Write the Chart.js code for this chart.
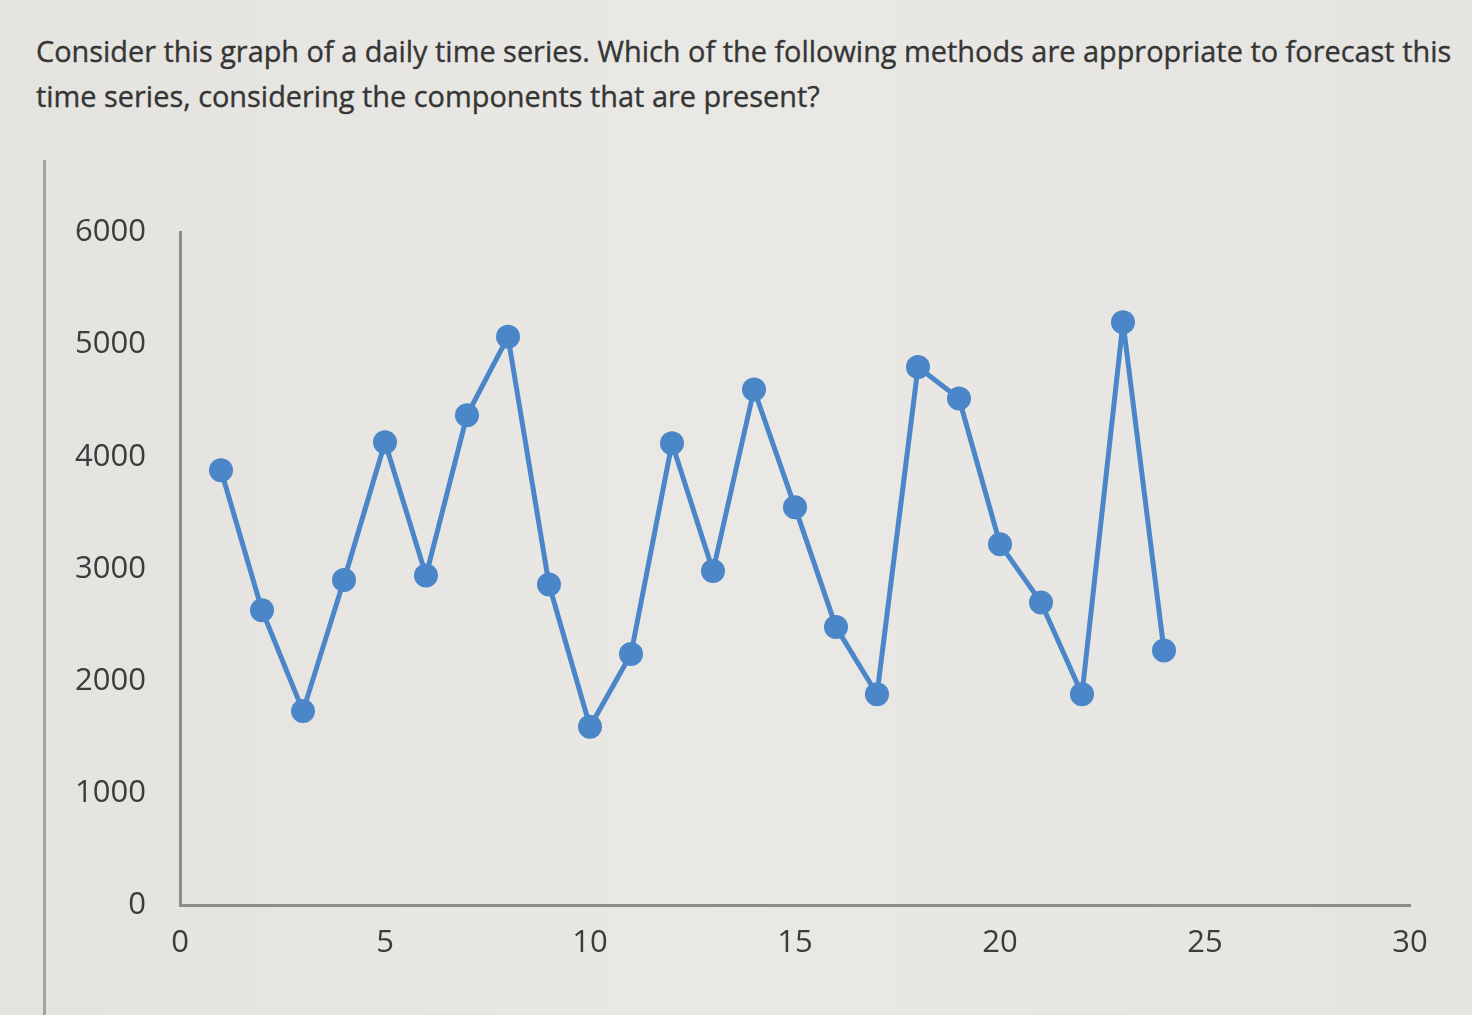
<!DOCTYPE html>
<html>
<head>
<meta charset="utf-8">
<script src="https://cdn.jsdelivr.net/npm/chart.js@4"></script>
<style>
    html, body { margin: 0; padding: 0; }
    body {
        width: 1472px;
        height: 1015px;
        overflow: hidden;
        background: linear-gradient(90deg, #e4e3e0 0%, #e9e8e5 50%, #e5e4e1 100%);
        font-family: "Open Sans", sans-serif;
        position: relative;
    }
    #question {
        position: absolute;
        left: 36px;
        top: 28px;
        width: 1436px;
        font-size: 28.9px;
        line-height: 45px;
        color: #353535;
        -webkit-text-stroke: 0.35px #353535;
        white-space: nowrap;
    }
    #frame {
        position: absolute;
        left: 43px;
        top: 160px;
        width: 3px;
        height: 860px;
        background: #a3a3a3;
    }
    #chartBox {
        position: absolute;
        left: 55px;
        top: 180px;
        width: 1400px;
        height: 800px;
    }
</style>
</head>
<body>
<div id="question">Consider this graph of a daily time series. Which of the following methods are appropriate to forecast this<br>time series, considering the components that are present?</div>
<div id="frame"></div>
<div id="chartBox"><canvas id="seriesChart"></canvas></div>

<script>
// Daily time series
const days = [1, 2, 3, 4, 5, 6, 7, 8, 9, 10, 11, 12, 13, 14, 15, 16, 17, 18, 19, 20, 21, 22, 23, 24];
const sales = [3880, 2630, 1730, 2900, 4130, 2940, 4370, 5070, 2860, 1590, 2240, 4120,
               2980, 4600, 3550, 2480, 1880, 4800, 4520, 3220, 2700, 1880, 5200, 2270];

// Axis ranges / ticks
const xTicks = [0, 5, 10, 15, 20, 25, 30];
const yTicks = [0, 1000, 2000, 3000, 4000, 5000, 6000];

const lineColor = '#4a86c8';
const axisColor = '#8c8c8c';
const labelColor = '#3c3c3c';

document.addEventListener('DOMContentLoaded', () => {
    initializeChart();
});

function initializeChart() {
    const ctx = document.getElementById('seriesChart').getContext('2d');
    const points = days.map((d, i) => ({ x: d, y: sales[i] }));

    new Chart(ctx, {
        type: 'line',
        data: {
            datasets: [{
                label: 'Daily series',
                data: points,
                borderColor: lineColor,
                backgroundColor: lineColor,
                borderWidth: 5,
                borderJoinStyle: 'round',
                pointRadius: 12,
                pointHoverRadius: 12,
                pointBorderWidth: 0,
                tension: 0
            }]
        },
        options: {
            responsive: true,
            maintainAspectRatio: false,
            animation: false,
            layout: { padding: { top: 12, right: 45, left: 0, bottom: 0 } },
            plugins: {
                legend: { display: false },
                tooltip: { enabled: false }
            },
            scales: {
                x: {
                    type: 'linear',
                    min: xTicks[0],
                    max: xTicks[xTicks.length - 1],
                    afterBuildTicks: (scale) => { scale.ticks = xTicks.map(v => ({ value: v })); },
                    afterFit: (scale) => { scale.height = 75; },
                    grid: { display: true, color: 'transparent', drawTicks: false },
                    border: { display: true, color: axisColor, width: 3 },
                    ticks: {
                        padding: 20,
                        maxRotation: 0,
                        color: labelColor,
                        font: { family: 'Open Sans', size: 31 }
                    }
                },
                y: {
                    min: yTicks[0],
                    max: yTicks[yTicks.length - 1],
                    afterBuildTicks: (scale) => { scale.ticks = yTicks.map(v => ({ value: v })); },
                    afterFit: (scale) => { scale.width = 125; },
                    grid: { display: true, color: 'transparent', drawTicks: false },
                    border: { display: true, color: axisColor, width: 3 },
                    ticks: {
                        padding: 34,
                        color: labelColor,
                        font: { family: 'Open Sans', size: 31 },
                        callback: (v) => String(v)
                    }
                }
            }
        }
    });
}
</script>
</body>
</html>
